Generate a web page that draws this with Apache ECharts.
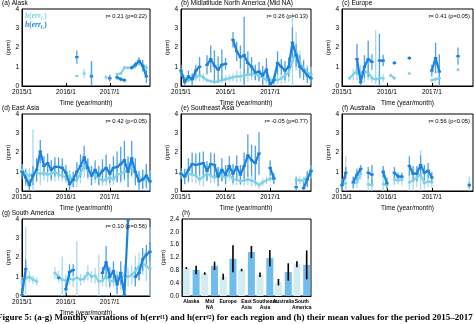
<!DOCTYPE html>
<html><head><meta charset="utf-8">
<script src="https://cdn.jsdelivr.net/npm/echarts@6/dist/echarts.min.js"></script>
<style>html,body{margin:0;padding:0;background:#fff}#c{width:474px;height:324px}</style>
</head><body><div id="c"></div>
<script>
const _ = null;
const years = [2015, 2016, 2017];
const yTicksTime = [0, 1, 2, 3, 4];

// (a) Alaska
const alaskaF1    = [_,_,_,_,_,_,_,_,_,_, _,_,_,_,_,0.52,_,0.65,_,0.6, _,_,_,0.45,_,_,0.62,0.65,0.95,0.95, 0.95,1.05,1.25,1.1,0.95,_];
const alaskaF1Err = [_,_,_,_,_,_,_,_,_,_, _,_,_,_,_,0.05,_,0.25,_,0.65, _,_,_,0.12,_,_,0.08,0.08,0.1,0.08, 0.1,0.15,0.2,0.2,0.15,_];
const alaskaF2    = [_,_,_,_,_,_,_,_,_,_, _,_,_,_,_,1.5,_,_,_,0.5, _,_,_,_,0.4,_,0.45,0.35,0.3,_, 0.95,1.1,1.3,1.05,0.5,_];
const alaskaF2Err = [_,_,_,_,_,_,_,_,_,_, _,_,_,_,_,0.35,_,_,_,0.8, _,_,_,_,0.18,_,0.12,0.1,0.1,_, 0.1,0.15,0.2,0.3,0.35,_];
// (b) Mid NA
const midnaF1    = [0.7,0.4,0.3,0.35,0.45,0.55,0.45,0.3,0.25,0.2, 0.25,0.3,0.35,0.4,0.45,0.5,0.5,0.55,0.6,0.6, 0.65,0.5,0.45,0.3,0.3,0.35,0.3,0.4,0.55,0.7, 1.3,1.8,1.2,0.9,0.7,0.6];
const midnaF1Err = [0.2,0.15,0.1,0.15,0.2,0.3,0.2,0.1,0.1,0.1, 0.1,0.15,0.2,0.2,0.2,0.3,0.3,0.4,0.4,0.3, 0.3,0.2,0.3,0.2,0.2,0.3,0.3,0.3,0.4,0.5, 2.5,1.0,0.6,0.5,0.4,0.4];
const midnaF2    = [0.8,0.2,0.5,0.35,0.8,1.0,_,1.1,1.4,1.05, 0.85,1.1,1.15,_,2.4,1.8,1.5,1.6,1.2,1.0, 0.7,0.75,0.55,0.85,0.05,0.3,1.2,1.0,0.8,1.0, 2.25,1.6,1.0,0.8,0.55,0.4];
const midnaF2Err = [0.3,0.2,0.3,0.3,0.3,0.5,_,0.5,0.7,0.8, 0.7,0.8,0.3,_,0.4,0.5,0.6,2.0,0.6,0.5, 0.4,0.5,0.5,0.6,0.1,0.2,0.6,0.4,0.5,0.5, 0.8,0.6,0.6,0.5,0.4,0.3];
// (c) Europe
const europeF1    = [_,_,0.4,0.6,0.8,0.7,0.75,0.7,0.4,0.35, 0.4,0.4,_,0.55,0.4,_,_,_,0.65,_, _,_,_,_,0.3,0.35,0.4,_,_,_, _,0.85,_,_,_,_];
const europeF1Err = [_,_,0.1,0.3,0.5,0.4,0.6,0.4,0.2,2.55, 0.2,0.2,_,0.1,0.1,_,_,_,0.05,_, _,_,_,_,0.1,0.1,0.1,_,_,_, _,0.1,_,_,_,_];
const europeF2    = [_,_,_,_,1.4,0.2,1.0,1.4,1.25,_, 1.32,1.32,_,_,1.2,_,_,_,1.45,_, _,_,_,_,0.8,1.45,0.75,_,_,_, _,1.55,_,_,_,_];
const europeF2Err = [_,_,_,_,0.8,0.4,0.6,0.95,0.4,_, 1.4,0.3,_,_,0.1,_,_,_,0.1,_, _,_,_,_,0.3,0.8,0.9,_,_,_, _,0.45,_,_,_,_];
// (d) East Asia
const eastAsiaF1    = [1.1,0.9,0.8,0.9,0.95,0.9,0.95,0.85,0.9,1.0, 0.85,0.8,0.7,0.8,0.5,0.6,0.9,1.3,1.1,0.9, 0.8,0.65,0.55,0.6,0.7,0.6,0.85,0.9,1.0,1.1, 1.2,0.9,0.7,0.6,0.6,0.55];
const eastAsiaF1Err = [0.3,0.3,0.4,2.3,0.5,0.6,0.4,0.4,0.4,0.5, 0.3,0.3,0.3,0.3,0.3,0.4,0.5,0.6,0.5,0.4, 0.4,0.3,0.3,0.3,0.4,0.3,0.4,0.5,0.5,0.5, 0.5,0.4,0.4,0.5,0.7,0.5];
const eastAsiaF2    = [1.0,0.7,0.3,0.8,1.1,2.05,1.3,1.45,1.1,1.25, 1.25,1.2,0.95,0.35,0.6,1.0,1.3,1.75,1.2,0.8, 1.1,0.8,1.05,1.2,0.9,1.2,1.25,1.4,1.6,1.0, 1.7,1.0,0.5,0.6,0.8,0.5];
const eastAsiaF2Err = [0.4,0.4,0.3,0.5,0.6,0.6,0.5,0.5,0.5,0.5, 0.5,0.5,0.4,0.3,0.4,0.5,0.6,0.6,0.5,0.5, 0.5,0.5,0.6,0.7,0.5,0.6,0.8,0.9,1.0,0.8, 0.9,0.7,0.5,0.5,0.6,0.5];
// (e) Southeast Asia
const seaF1    = [0.85,0.75,0.9,0.85,0.8,0.6,0.75,0.9,0.8,0.7, 0.9,0.8,0.7,0.85,0.6,0.6,0.5,0.55,0.6,0.55, 0.45,0.3,0.45,0.55,0.65,0.6,_,_,_,_, _,0.6,0.55,0.55,0.75,1.0];
const seaF1Err = [0.2,0.3,0.5,0.4,0.4,0.3,0.5,0.4,0.4,0.3, 0.3,0.3,0.3,0.3,0.3,0.3,0.2,0.3,0.3,0.3, 0.2,0.2,0.2,0.2,0.2,0.2,_,_,_,_, _,0.2,0.2,0.2,0.3,0.35];
const seaF2    = [0.9,0.75,1.1,1.4,1.35,1.4,1.45,1.05,1.4,1.35, 0.75,1.1,0.85,1.3,0.9,1.25,0.85,1.3,1.85,1.6, 1.45,1.95,_,_,1.2,0.65,_,_,_,_, _,0.2,_,0.15,0.6,1.05];
const seaF2Err = [0.3,0.4,0.6,0.6,0.6,0.6,0.6,0.5,0.6,0.6, 0.5,0.6,0.5,0.5,0.5,0.6,0.5,0.7,1.1,0.8, 0.9,1.1,_,_,0.4,0.3,_,_,_,_, _,0.5,_,0.3,0.4,0.3];
// (f) Australia
const ausF1    = [0.35,0.4,_,0.4,0.45,0.9,_,0.35,0.3,_, _,0.35,0.3,_,0.6,0.55,0.6,_,0.45,0.55, 0.7,0.85,0.4,0.5,0.45,_,_,_,_,_, _,_,_,_,0.35,_];
const ausF1Err = [0.3,1.4,_,0.3,0.3,0.3,_,0.4,0.3,_, _,0.8,0.2,_,0.3,0.2,0.3,_,0.5,0.6, 0.5,1.25,0.3,0.3,0.3,_,_,_,_,_, _,_,_,_,0.4,_];
const ausF2    = [0.3,0.95,_,0.45,0.85,1.15,_,0.95,0.85,_, _,1.0,0.4,_,0.95,0.75,0.75,_,1.3,0.9, 0.9,1.35,0.95,1.05,0.7,_,_,_,_,_, _,_,_,_,0.3,_];
const ausF2Err = [0.3,0.3,_,0.3,0.3,0.2,_,0.3,0.5,_, _,0.3,0.3,_,0.3,0.2,0.2,_,0.5,0.4, 0.4,0.5,0.4,0.4,0.3,_,_,_,_,_, _,_,_,_,0.15,_];
// (g) South America
const saF1    = [0.7,0.9,1.0,0.85,0.75,_,_,_,_,1.2, 1.0,0.85,0.8,0.9,0.85,0.95,0.85,0.9,1.2,1.0, 1.05,0.75,0.8,1.05,0.8,0.75,0.8,0.9,1.1,1.0, 1.1,1.3,1.55,1.7,1.55,1.4];
const saF1Err = [0.3,2.7,0.3,0.2,0.2,_,_,_,_,0.3, 0.3,1.2,0.3,0.3,0.4,1.9,0.3,0.2,0.4,0.3, 0.4,1.4,0.3,0.6,0.4,0.3,0.5,0.6,0.5,0.5, 0.5,0.8,0.7,0.6,0.8,2.2];
const saF2    = [0.05,1.4,_,_,_,_,_,_,_,_, 0.95,_,0.35,1.25,1.35,_,_,_,_,_, _,_,1.2,1.75,1.0,1.3,0.6,1.2,0.05,3.95, _,1.0,1.2,1.9,2.15,2.3];
const saF2Err = [0.1,0.5,_,_,_,_,_,_,_,_, 0.1,_,0.3,0.4,0.3,_,_,_,_,_, _,_,0.3,0.85,0.5,0.5,0.5,0.6,0.1,0.2, _,0.5,0.4,0.6,0.5,0.5];

// (h) means
const barCats = ['Alaska','Mid\nNA','Europe','East\nAsia','Southeast\nAsia','Australia','South\nAmerica'];
const meanF1 = [0.87,0.7,0.6,0.81,0.66,0.43,0.99];
const meanF1Err = [0.03,0.04,0.09,0.04,0.07,0.1,0.09];
const meanF2 = [0.81,0.94,1.16,1.37,1.18,0.75,0.97];
const meanF2Err = [0.13,0.13,0.42,0.19,0.25,0.27,0.45];
const yTicksBar = [0, 0.4, 0.8, 1.2, 1.6, 2.0, 2.4];

const titles = ['(a) Alask','(b) Midlatitude North America (Mid NA)','(c) Europe','(d) East Asia','(e) Southeast Asia','(f) Australia','(g) South America','(h)'];
const rTexts = ['r= 0.21 (p=0.22)','r= 0.26 (p=0.13)','r= 0.41 (p=0.05)','r= 0.42 (p<0.05)','r= -0.05 (p=0.77)','r= 0.56 (p<0.05)','r= 0.10 (p=0.56)'];

const monthLabels = [];
years.forEach(y => { for (let m = 1; m <= 12; m++) monthLabels.push(y + '/' + m); });

const panels = [
  [alaskaF1, alaskaF1Err, alaskaF2, alaskaF2Err],
  [midnaF1, midnaF1Err, midnaF2, midnaF2Err],
  [europeF1, europeF1Err, europeF2, europeF2Err],
  [eastAsiaF1, eastAsiaF1Err, eastAsiaF2, eastAsiaF2Err],
  [seaF1, seaF1Err, seaF2, seaF2Err],
  [ausF1, ausF1Err, ausF2, ausF2Err],
  [saF1, saF1Err, saF2, saF2Err]
];

const FONT = 'Liberation Sans';
const COL = {f1Line:'#7ad2e5', f1Whisk:'#a9d8f1', f2Line:'#1b82dd', f2Whisk:'#4f9fe6', bar1:'#d3ebf4', bar2:'#6dbdee'};
const boxes = [[22,9,128],[181,9,130],[342,9,131],[22,114,128],[181,114,130],[342,114,131],[22,219,128],[182,219,129]];
const H = 77;
const isYearStart = (i) => i % 12 === 0;

function whisker(color, width) {
  return function(params, api) {
    const i = api.value(0), v = api.value(1), e = api.value(2);
    const cs = params.coordSys;
    const p1 = api.coord([i, Math.max(0, v - e)]);
    const p2 = api.coord([i, v + e]);
    return {type:'line', shape:{x1:p1[0], y1:p1[1], x2:p2[0], y2:Math.max(p2[1], cs.y)},
            style:{stroke:color, lineWidth:width}};
  };
}
function whiskData(vals, errs) {
  const out = [];
  vals.forEach((v, i) => { if (v != null) out.push([i, v, errs[i] || 0]); });
  return out;
}

const grid = [], xAxis = [], yAxis = [], series = [], title = [], graphic = [];
boxes.forEach((b, k) => {
  grid.push({left:b[0], top:b[1], width:b[2], height:H, show:true, borderColor:'#000', borderWidth:1, backgroundColor:'#fff', containLabel:false});
  title.push({text:titles[k], left: k % 3 === 0 ? 2 : b[0], top: b[1] - 9, padding:0,
    textStyle:{fontSize:6.5, fontWeight:'normal', color:'#000', fontFamily:FONT}});
});

panels.forEach((p, k) => {
  xAxis.push({type:'category', gridIndex:k, data:monthLabels, boundaryGap:false,
    axisLine:{lineStyle:{color:'#000', width:1}},
    axisTick:{inside:true, interval:(i) => isYearStart(i), length:3, lineStyle:{color:'#000'}},
    axisLabel:{interval:(i) => isYearStart(i), fontSize:6.5, color:'#000', margin:3, fontFamily:FONT, hideOverlap:false},
    name:'Time (year/month)', nameLocation:'middle', nameGap:14,
    nameTextStyle:{fontSize:6.5, color:'#000', fontFamily:FONT}});
  yAxis.push({type:'value', gridIndex:k, min:yTicksTime[0], max:yTicksTime[yTicksTime.length-1], interval:1,
    axisLine:{show:true, lineStyle:{color:'#000'}}, splitLine:{show:false},
    axisTick:{inside:true, length:3, lineStyle:{color:'#000'}},
    axisLabel:{fontSize:6.5, color:'#000', margin:3, fontFamily:FONT},
    name:'(ppm)', nameLocation:'middle', nameGap:9, nameRotate:90,
    nameTextStyle:{fontSize:6, color:'#000', fontFamily:FONT}});
  series.push({type:'custom', xAxisIndex:k, yAxisIndex:k, renderItem:whisker(COL.f1Whisk, 1.3), data:whiskData(p[0], p[1]), z:1, silent:true});
  series.push({type:'custom', xAxisIndex:k, yAxisIndex:k, renderItem:whisker(COL.f2Whisk, 1.3), data:whiskData(p[2], p[3]), z:2, silent:true});
  series.push({type:'line', xAxisIndex:k, yAxisIndex:k, data:p[0], connectNulls:false, symbol:'rect', symbolSize:[3,2],
    itemStyle:{color:COL.f1Line}, lineStyle:{color:COL.f1Line, width:2}, z:3, silent:true});
  series.push({type:'line', xAxisIndex:k, yAxisIndex:k, data:p[2], connectNulls:false, symbol:'rect', symbolSize:[3.5,2.2],
    itemStyle:{color:COL.f2Line}, lineStyle:{color:COL.f2Line, width:2.2}, z:4, silent:true});
  const b = boxes[k];
  graphic.push({type:'text', x:b[0] + b[2] - 3, y:b[1] + 4, z:100,
    style:{text:rTexts[k], textAlign:'right', fontSize:5.8, fill:'#000', fontFamily:FONT}});
});

// (h) bar panel
const BW = 7, BG = 0.4, BOFF = BW * (1 + BG) / 2;
function barErr(sign) {
  return function(params, api) {
    const i = api.value(0), v = api.value(1), e = api.value(2);
    const c = api.coord([i, v]);
    const lo = api.coord([i, v - e]), hi = api.coord([i, v + e]);
    const x = c[0] + sign * BOFF;
    return {type:'line', shape:{x1:x, y1:lo[1], x2:x, y2:hi[1]}, style:{stroke:'#000', lineWidth:1.6}};
  };
}
xAxis.push({type:'category', gridIndex:7, data:barCats,
  axisLine:{lineStyle:{color:'#000'}}, axisTick:{show:false},
  axisLabel:{interval:0, fontSize:5, fontWeight:'bold', color:'#000', margin:3, lineHeight:5.5, fontFamily:FONT}});
yAxis.push({type:'value', gridIndex:7, min:yTicksBar[0], max:yTicksBar[yTicksBar.length-1], interval:0.4,
  axisLine:{show:true, lineStyle:{color:'#000'}}, splitLine:{show:false},
  axisTick:{inside:true, length:3, lineStyle:{color:'#000'}},
  axisLabel:{fontSize:6.5, color:'#000', margin:3, fontFamily:FONT, formatter:v => v.toFixed(1)},
  name:'(ppm)', nameLocation:'middle', nameGap:15, nameRotate:90,
  nameTextStyle:{fontSize:6, color:'#000', fontFamily:FONT}});
series.push({type:'bar', xAxisIndex:7, yAxisIndex:7, data:meanF1, barWidth:BW, barGap:(BG*100)+'%', itemStyle:{color:COL.bar1}, silent:true});
series.push({type:'bar', xAxisIndex:7, yAxisIndex:7, data:meanF2, barWidth:BW, barGap:(BG*100)+'%', itemStyle:{color:COL.bar2}, silent:true});
series.push({type:'custom', xAxisIndex:7, yAxisIndex:7, renderItem:barErr(-1), data:meanF1.map((v,i)=>[i,v,meanF1Err[i]]), z:5, silent:true});
series.push({type:'custom', xAxisIndex:7, yAxisIndex:7, renderItem:barErr(1), data:meanF2.map((v,i)=>[i,v,meanF2Err[i]]), z:5, silent:true});

// legend in (a)
function legendRich(color) {
  return {i:{fontFamily:'Liberation Serif', fontStyle:'italic', fontWeight:'bold', fontSize:7.5, fill:color},
          n:{fontFamily:'Liberation Serif', fontWeight:'bold', fontSize:7.5, fill:color},
          s:{fontFamily:'Liberation Serif', fontStyle:'italic', fontWeight:'bold', fontSize:5, fill:color, verticalAlign:'bottom', padding:[3,0,0,0]}};
}
graphic.push({type:'text', x:25, y:12, z:100, style:{text:'{i|h}{n|(}{i|err}{s|f₁}{n|)}', rich:legendRich(COL.f1Line)}});
graphic.push({type:'text', x:25, y:21, z:100, style:{text:'{i|h}{n|(}{i|err}{s|f₂}{n|)}', rich:legendRich(COL.f2Line)}});
// caption
graphic.push({type:'text', x:-3, y:313, z:100, style:{
  text:'Figure 5: (a-g) Monthly variations of h(err{s|f1}) and h(err{s|f2}) for each region and (h) their mean values for the period 2015–2017',
  fontFamily:'Liberation Serif', fontWeight:'bold', fontSize:9, fill:'#000',
  rich:{s:{fontFamily:'Liberation Serif', fontWeight:'bold', fontSize:5.5, fill:'#000'}}}});

const chart = echarts.init(document.getElementById('c'), null, {renderer:'canvas', width:474, height:324});
chart.setOption({animation:false, backgroundColor:'#fff', grid, xAxis, yAxis, series, title, graphic});
</script></body></html>
